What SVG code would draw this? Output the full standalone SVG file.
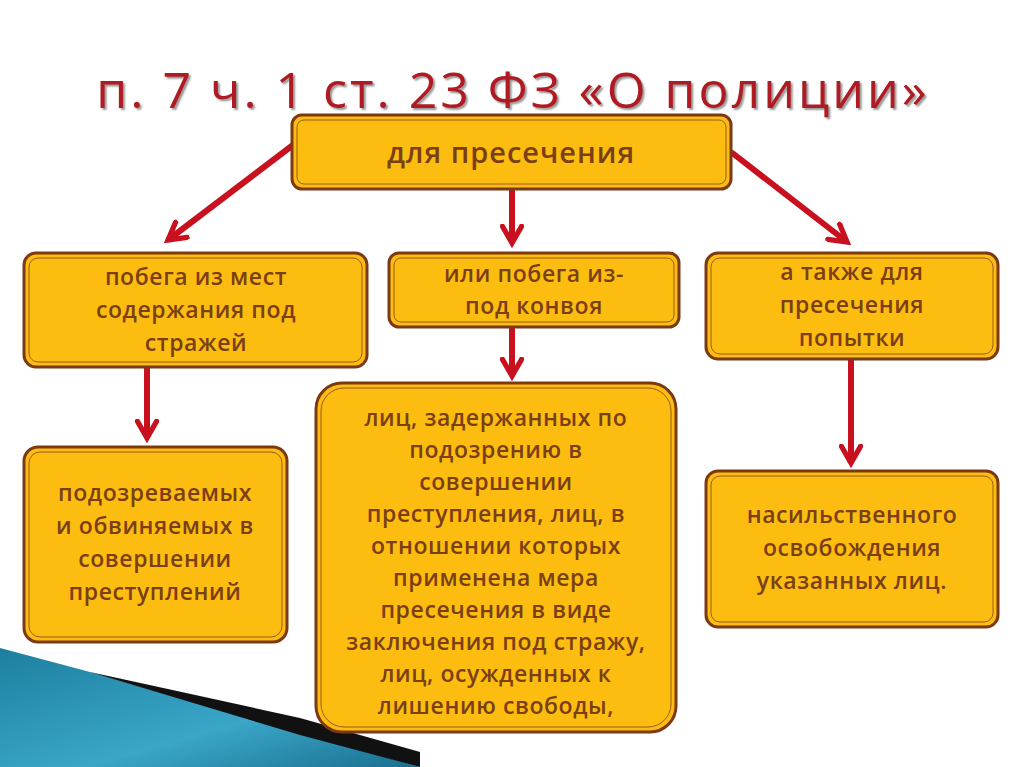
<svg xmlns="http://www.w3.org/2000/svg" width="1024" height="767" viewBox="0 0 1024 767">
<defs>
<linearGradient id="bl" x1="0" y1="0" x2="1" y2="1"><stop offset="0" stop-color="#1d7f9f"/><stop offset="0.6" stop-color="#3aa6c8"/><stop offset="1" stop-color="#1a6f8f"/></linearGradient>
<marker id="ah" viewBox="0 0 10 10" refX="8" refY="5" markerWidth="4" markerHeight="4" orient="auto" markerUnits="strokeWidth"><path d="M1,1 L8,5 L1,9" fill="none" stroke="#c8101e" stroke-width="2.2" stroke-linecap="round"/></marker>
</defs>
<style>
.b{fill:#fdbd10;stroke:#7b3a12;stroke-width:3}
.i{fill:none;stroke:#9a5a20;stroke-width:1}
.t{font-family:"Open Sans","DejaVu Sans",sans-serif;font-weight:600;font-size:23px;fill:#7a3f14;text-anchor:middle;letter-spacing:0.6px}
.c{stroke:#c8101e;stroke-width:6;fill:none;marker-end:url(#ah)}
</style>
<rect width="1024" height="767" fill="#fff"/>
<polygon points="0,648 90,672 420,767 0,767" fill="url(#bl)"/>
<polygon points="90,672 300,718 420,752 420,767 300,735" fill="#111"/>
<text x="513" y="108" font-family="'Open Sans','DejaVu Sans',sans-serif" font-weight="500" font-size="50" letter-spacing="3" fill="#b01a22" text-anchor="middle" style="text-shadow:2px 2px 2px #999">п. 7 ч. 1 ст. 23 ФЗ «О полиции»</text>
<g id="connectors">
<line class="c" x1="293" y1="145" x2="168" y2="240"/>
<line class="c" x1="512" y1="190" x2="512" y2="243"/>
<line class="c" x1="731" y1="152" x2="847" y2="242"/>
<line class="c" x1="147" y1="368" x2="147" y2="438"/>
<line class="c" x1="512" y1="328" x2="512" y2="376"/>
<line class="c" x1="851" y1="360" x2="851" y2="463"/>
</g>
<g id="n0"><rect class="b" x="292" y="115" width="439" height="74" rx="10"/><rect class="i" x="297" y="120" width="429" height="64" rx="7"/><text class="t" x="511" y="163" style="font-size:29px;letter-spacing:1px">для пресечения</text></g>
<g id="n1"><rect class="b" x="24" y="253" width="343" height="114" rx="12"/><rect class="i" x="29" y="258" width="333" height="104" rx="9"/><text class="t" x="196" y="285">побега из мест</text><text class="t" x="196" y="318">содержания под</text><text class="t" x="196" y="351">стражей</text></g>
<g id="n2"><rect class="b" x="389" y="253" width="290" height="74" rx="10"/><rect class="i" x="394" y="258" width="280" height="64" rx="7"/><text class="t" x="534" y="282">или побега из-</text><text class="t" x="534" y="314">под конвоя</text></g>
<g id="n3"><rect class="b" x="706" y="253" width="292" height="106" rx="12"/><rect class="i" x="711" y="258" width="282" height="96" rx="9"/><text class="t" x="852" y="280">а также для</text><text class="t" x="852" y="313">пресечения</text><text class="t" x="852" y="346">попытки</text></g>
<g id="n4"><rect class="b" x="24" y="447" width="263" height="195" rx="14"/><rect class="i" x="29" y="452" width="253" height="185" rx="11"/><text class="t" x="155" y="501">подозреваемых</text><text class="t" x="155" y="534">и обвиняемых в</text><text class="t" x="155" y="567">совершении</text><text class="t" x="155" y="600">преступлений</text></g>
<g id="n5"><rect class="b" x="316" y="383" width="360" height="349" rx="26"/><rect class="i" x="321" y="388" width="350" height="339" rx="23"/>
<text class="t" x="496" y="426">лиц, задержанных по</text><text class="t" x="496" y="458">подозрению в</text><text class="t" x="496" y="490">совершении</text><text class="t" x="496" y="522">преступления, лиц, в</text><text class="t" x="496" y="554">отношении которых</text><text class="t" x="496" y="586">применена мера</text><text class="t" x="496" y="618">пресечения в виде</text><text class="t" x="496" y="650">заключения под стражу,</text><text class="t" x="496" y="682">лиц, осужденных к</text><text class="t" x="496" y="714">лишению свободы,</text></g>
<g id="n6"><rect class="b" x="706" y="471" width="292" height="156" rx="12"/><rect class="i" x="711" y="476" width="282" height="146" rx="9"/><text class="t" x="852" y="523">насильственного</text><text class="t" x="852" y="556">освобождения</text><text class="t" x="852" y="589">указанных лиц.</text></g>
</svg>
